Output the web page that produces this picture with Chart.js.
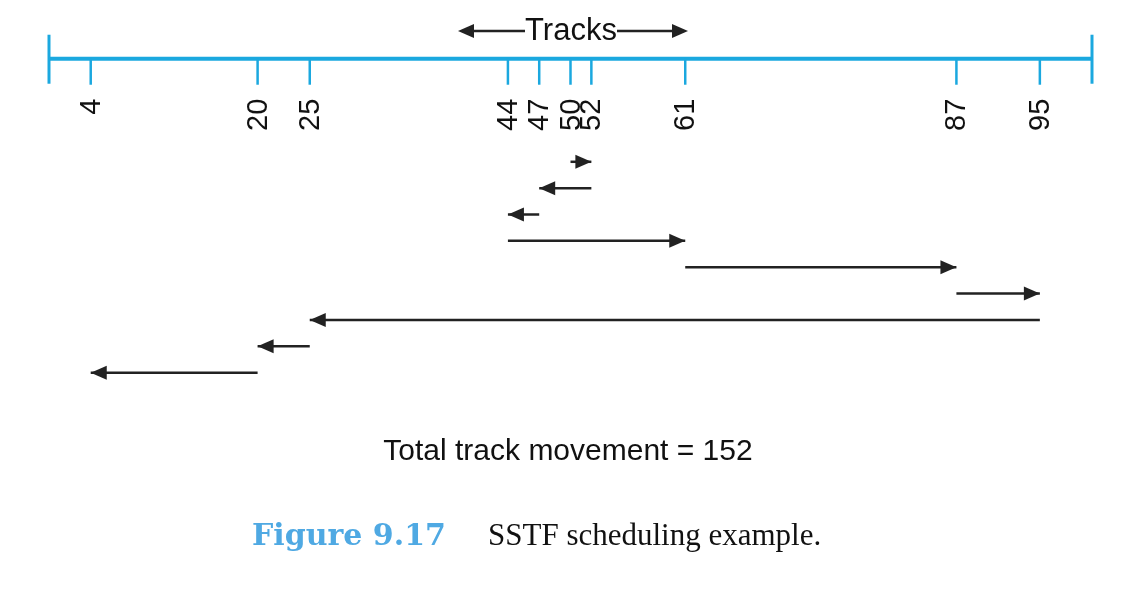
<!DOCTYPE html>
<html>
<head>
<meta charset="utf-8">
<script src="https://cdn.jsdelivr.net/npm/chart.js@4"></script>
<style>
  html, body { margin: 0; padding: 0; background: #fff; }
  #wrap { width: 1134px; height: 602px; }
</style>
</head>
<body>
<div id="wrap"><canvas id="sstf" width="1134" height="602"></canvas></div>
<script>
// request order served by SSTF, starting at head position 50
const visitOrder = [50, 52, 47, 44, 61, 87, 95, 25, 20, 4];
const tickTracks = [4, 20, 25, 44, 47, 50, 52, 61, 87, 95];
const trackRange = [0, 100];
const totalLabel = 'Total track movement = 152';

const BLUE = '#1ba8df';
const AXIS_ROW = -2.91;   // row value where the track axis sits

const moves = [];
for (let i = 1; i < visitOrder.length; i++) {
  moves.push({
    data: [{ x: visitOrder[i - 1], y: i }, { x: visitOrder[i], y: i }],
    borderColor: '#222', borderWidth: 2.5, pointRadius: 0, showLine: true
  });
}

function arrowHead(ctx, x, y, dir, len, half) {
  ctx.beginPath();
  ctx.moveTo(x, y);
  ctx.lineTo(x - dir * len, y - half);
  ctx.lineTo(x - dir * len, y + half);
  ctx.closePath();
  ctx.fill();
}

const decor = {
  id: 'decor',
  afterDatasetsDraw(chart) {
    const { ctx, scales: { x, y } } = chart;
    ctx.save();
    ctx.fillStyle = '#222';
    // arrowheads on each move
    chart.data.datasets.forEach((ds, i) => {
      const pts = chart.getDatasetMeta(i).data;
      const dir = pts[1].x > pts[0].x ? 1 : -1;
      arrowHead(ctx, pts[1].x, pts[1].y, dir, 16, 7);
    });

    // track axis
    const ay = y.getPixelForValue(AXIS_ROW);
    const x0 = x.getPixelForValue(trackRange[0]);
    const x1 = x.getPixelForValue(trackRange[1]);
    ctx.strokeStyle = BLUE;
    ctx.lineWidth = 4;
    ctx.beginPath();
    ctx.moveTo(x0, ay); ctx.lineTo(x1, ay);
    ctx.stroke();
    ctx.lineWidth = 3;
    [x0, x1].forEach(px => {
      ctx.beginPath(); ctx.moveTo(px, ay - 24); ctx.lineTo(px, ay + 25); ctx.stroke();
    });
    ctx.lineWidth = 2.5;
    ctx.font = '29px "Liberation Sans", Arial, sans-serif';
    ctx.fillStyle = '#111';
    tickTracks.forEach(t => {
      const px = x.getPixelForValue(t);
      ctx.beginPath(); ctx.moveTo(px, ay); ctx.lineTo(px, ay + 26); ctx.stroke();
      ctx.save();
      ctx.translate(px + 1, ay + 40);
      ctx.rotate(-Math.PI / 2);
      ctx.textAlign = 'right';
      ctx.textBaseline = 'middle';
      ctx.fillText(String(t), 0, 0);
      ctx.restore();
    });

    // "Tracks" heading with arrows
    ctx.font = '31px "Liberation Sans", Arial, sans-serif';
    ctx.textAlign = 'center';
    ctx.textBaseline = 'middle';
    ctx.fillText('Tracks', 571, 31);
    ctx.strokeStyle = '#222';
    ctx.fillStyle = '#222';
    ctx.lineWidth = 2.5;
    ctx.beginPath(); ctx.moveTo(525, 31); ctx.lineTo(465, 31); ctx.stroke();
    arrowHead(ctx, 458, 31, -1, 16, 7);
    ctx.beginPath(); ctx.moveTo(617, 31); ctx.lineTo(680, 31); ctx.stroke();
    arrowHead(ctx, 688, 31, 1, 16, 7);

    // total + caption
    ctx.fillStyle = '#111';
    ctx.font = '30px "Liberation Sans", Arial, sans-serif';
    ctx.fillText(totalLabel, 568, 452);
    ctx.textAlign = 'left';
    ctx.font = 'bold 30px "DejaVu Serif", "Liberation Serif", serif';
    ctx.fillStyle = '#4fa9e3';
    ctx.fillText('Figure 9.17', 252, 537);
    ctx.font = '31px "Liberation Serif", serif';
    ctx.fillStyle = '#111';
    ctx.fillText('SSTF scheduling example.', 488, 537);
    ctx.restore();
  }
};

new Chart(document.getElementById('sstf'), {
  type: 'scatter',
  data: { datasets: moves },
  options: {
    responsive: false,
    animation: false,
    layout: { padding: { left: 49, right: 42, top: 30, bottom: 203 } },
    plugins: { legend: { display: false }, tooltip: { enabled: false } },
    scales: {
      x: { type: 'linear', min: trackRange[0], max: trackRange[1], display: false },
      y: { type: 'linear', min: -4, max: 10, reverse: true, display: false }
    }
  },
  plugins: [decor]
});
</script>
</body>
</html>
